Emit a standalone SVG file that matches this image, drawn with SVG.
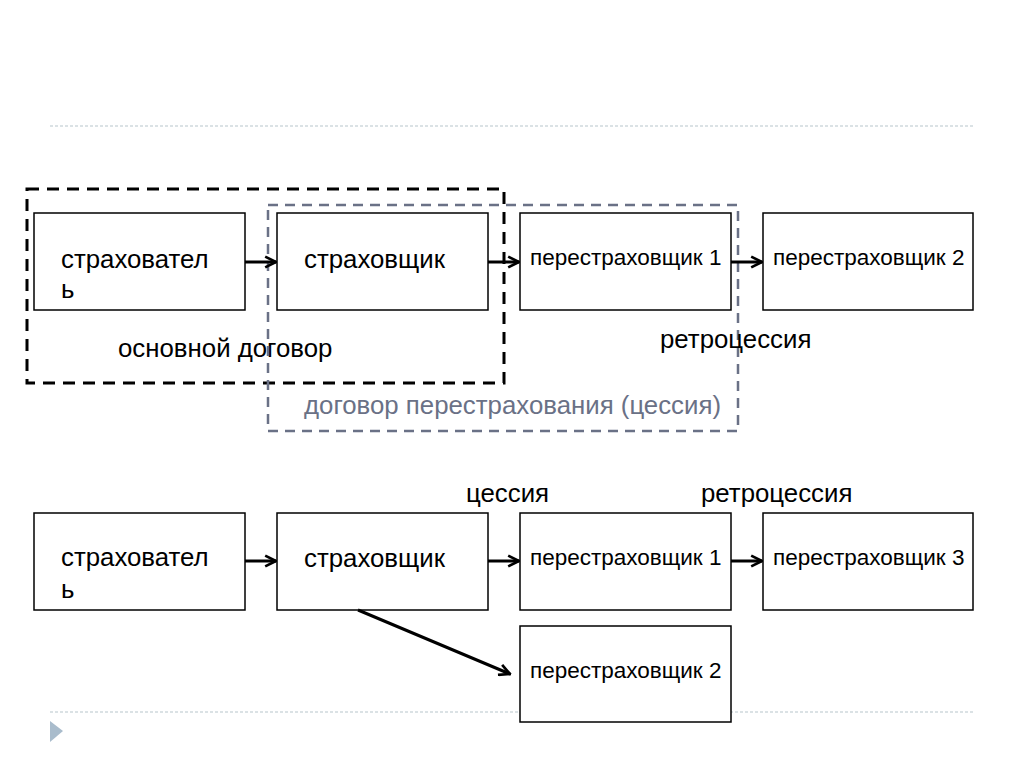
<svg xmlns="http://www.w3.org/2000/svg" width="1024" height="767" viewBox="0 0 1024 767">
<style>
.box{fill:#fff;stroke:#000;stroke-width:1.5}
.t{font-family:"Liberation Sans",Arial,sans-serif;fill:#000}
.big{font-size:25.8px}
.sm{font-size:22.5px}
.con{stroke:#000;stroke-width:3;fill:none}
.sep{stroke:#b7c6cb;stroke-width:1.2;stroke-dasharray:3 2}
</style>
<defs>
<marker id="ah" viewBox="0 0 10 10" refX="9" refY="5" markerWidth="4.5" markerHeight="4.5" orient="auto" markerUnits="strokeWidth">
<polyline points="1,1 9,5 1,9" fill="none" stroke="#000" stroke-width="2"/>
</marker>
</defs>
<rect width="1024" height="767" fill="#fff"/>
<line class="sep" x1="50" y1="126" x2="975" y2="126"/>
<line class="sep" x1="50" y1="712" x2="975" y2="712"/>
<polygon points="50,721 63,731 50,742" fill="#a9bccc"/>

<g id="frame-main">
<rect x="27" y="189" width="477" height="194" fill="none" stroke="#000" stroke-width="3" stroke-dasharray="12 8"/>
<text class="t big" x="118" y="357">основной договор</text>
</g>
<g id="frame-cession">
<rect x="268" y="205" width="470" height="226" fill="none" stroke="#6a7186" stroke-width="2.5" stroke-dasharray="10 7"/>
<text class="t big" x="304" y="414" style="fill:#6a7186">договор перестрахования (цессия)</text>
</g>

<g id="n1"><rect class="box" x="34" y="213" width="211" height="97"/><text class="t big" x="61" y="268">страховател</text><text class="t big" x="61" y="298">ь</text></g>
<g id="n2"><rect class="box" x="277" y="213" width="211" height="97"/><text class="t big" x="304" y="268">страховщик</text></g>
<g id="n3"><rect class="box" x="520" y="213" width="211" height="97"/><text class="t sm" x="530" y="265">перестраховщик 1</text></g>
<g id="n4"><rect class="box" x="763" y="213" width="210" height="97"/><text class="t sm" x="773" y="265">перестраховщик 2</text></g>
<text class="t big" x="660" y="348">ретроцессия</text>

<g id="m1"><rect class="box" x="34" y="513" width="211" height="97"/><text class="t big" x="61" y="566">страховател</text><text class="t big" x="61" y="598">ь</text></g>
<g id="m2"><rect class="box" x="277" y="513" width="211" height="97"/><text class="t big" x="304" y="567">страховщик</text></g>
<g id="m3"><rect class="box" x="520" y="513" width="211" height="97"/><text class="t sm" x="530" y="565">перестраховщик 1</text></g>
<g id="m4"><rect class="box" x="763" y="513" width="210" height="97"/><text class="t sm" x="773" y="565">перестраховщик 3</text></g>
<g id="m5"><rect class="box" x="520" y="626" width="211" height="96"/><text class="t sm" x="530" y="678">перестраховщик 2</text></g>
<text class="t big" x="466" y="502">цессия</text>
<text class="t big" x="701" y="502">ретроцессия</text>

<g id="connectors">
<line class="con" x1="245" y1="262" x2="276" y2="262" marker-end="url(#ah)"/>
<line class="con" x1="488" y1="262" x2="519" y2="262" marker-end="url(#ah)"/>
<line class="con" x1="731" y1="262" x2="762" y2="262" marker-end="url(#ah)"/>
<line class="con" x1="245" y1="561" x2="276" y2="561" marker-end="url(#ah)"/>
<line class="con" x1="488" y1="561" x2="519" y2="561" marker-end="url(#ah)"/>
<line class="con" x1="731" y1="561" x2="762" y2="561" marker-end="url(#ah)"/>
<line class="con" x1="358" y1="610" x2="510" y2="674" marker-end="url(#ah)"/>
</g>
</svg>
